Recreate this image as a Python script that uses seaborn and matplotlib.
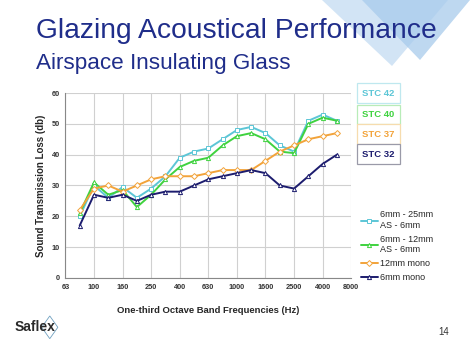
import matplotlib
matplotlib.use("Agg")
import matplotlib.pyplot as plt
import seaborn as sns
import numpy as np
import pandas as pd
from matplotlib.patches import Polygon

### one-third octave bands that carry data (80 Hz .. 5000 Hz)
BANDS = [80, 100, 125, 160, 200, 250, 315, 400, 500, 630, 800,
         1000, 1250, 1600, 2000, 2500, 3150, 4000, 5000]
TICK_LABELS = ["63", "100", "160", "250", "400", "630", "1000",
               "1600", "2500", "4000", "8000"]

STL_25AS = [20, 30, 26, 29.5, 26, 29, 33, 39, 41, 42, 45, 48, 49, 47, 43, 41, 51, 53, 51]
STL_12AS = [21, 31, 27, 28.5, 23, 27, 32, 36, 38, 39, 43, 46, 47, 45, 41, 40.5, 50, 52, 51]
STL_12MONO = [22, 29, 30, 28, 30, 32, 33, 33, 33, 34, 35, 35, 35, 38, 41, 43, 45, 46, 47]
STL_6MONO = [17, 27, 26, 27, 25, 27, 28, 28, 30, 32, 33, 34, 35, 34, 30, 29, 33, 37, 40]

SERIES = ["6mm - 25mm\nAS - 6mm", "6mm - 12mm\nAS - 6mm", "12mm mono", "6mm mono"]
STC = ["STC 42", "STC 40", "STC 37", "STC 32"]
COLORS = ["#5cc6d6", "#3fd23f", "#f2a33a", "#1c1c6e"]
MARKERS = ["s", "^", "D", "^"]

### long-form frame, x is the band position on the axis (63 Hz = 0)
rows = []
for name, vals in zip(SERIES, [STL_25AS, STL_12AS, STL_12MONO, STL_6MONO]):
	for i, (b, v) in enumerate(zip(BANDS, vals)):
		rows.append({"series": name, "pos": i + 1, "band": b, "stl": v})
df = pd.DataFrame(rows)

sns.set_style("white")
plt.rcParams["font.family"] = ["Liberation Sans", "DejaVu Sans"]

fig = plt.figure(figsize=(4.74, 3.55), dpi=100)
fig.patch.set_facecolor("white")

### decorative blue triangles top right (pixel coords -> figure fraction)
def px(pts):
	return [[x / 474.0, 1 - y / 355.0] for x, y in pts]

fig.patches.append(Polygon(px([(322, 0), (448, 0), (392, 66)]), closed=True,
                           transform=fig.transFigure, facecolor="#c4dcf2", edgecolor="none",
                           alpha=0.75, zorder=0))
fig.patches.append(Polygon(px([(362, 0), (470, 0), (420, 60)]), closed=True,
                           transform=fig.transFigure, facecolor="#a8cbec", edgecolor="none",
                           alpha=0.75, zorder=0))

fig.text(0.076, 0.893, "Glazing Acoustical Performance", fontsize=20.3, color="#1f2d8a", va="baseline")
fig.text(0.076, 0.806, "Airspace Insulating Glass", fontsize=16.2, color="#1f2d8a", va="baseline")

ax = fig.add_axes([0.138, 0.217, 0.603, 0.521])
for name, col, mk in zip(SERIES, COLORS, MARKERS):
	sub = df[df["series"] == name]
	sns.lineplot(data=sub, x="pos", y="stl", ax=ax, color=col, lw=1.4,
	             marker=mk, markersize=3, markerfacecolor="white",
	             markeredgecolor=col, markeredgewidth=0.7, label=name)

ax.set_xlim(0, 20)
ax.set_ylim(0, 60)
ax.set_xticks(np.arange(0, 21, 2))
ax.set_xticklabels(TICK_LABELS)
ax.set_yticks(np.arange(0, 61, 10))
ax.tick_params(labelsize=5.3, length=2, width=0.6, pad=2, direction="out", colors="#333333")
for lab in ax.get_xticklabels() + ax.get_yticklabels():
	lab.set_fontweight("bold")
ax.grid(True, color="#d0d0d0", lw=0.8)
for s in ["top", "right"]:
	ax.spines[s].set_visible(False)
for s in ["left", "bottom"]:
	ax.spines[s].set_color("#888888")
	ax.spines[s].set_linewidth(0.8)
ax.set_xlabel("One-third Octave Band Frequencies (Hz)", fontsize=6.8, fontweight="bold", labelpad=11)
ax.set_ylabel("Sound Transmission Loss (db)", fontsize=7, fontweight="bold", labelpad=4)

h, l = ax.get_legend_handles_labels()
ax.get_legend().remove()
fig.legend(h, l, loc="upper left", bbox_to_anchor=(0.745, 0.43), frameon=False,
           fontsize=6.5, handlelength=1.8, handletextpad=0.3, labelspacing=0.55)

### STC boxes
stc_y = [0.738, 0.677, 0.622, 0.566]
edges = ["#bfe8ef", "#b8ecb8", "#f6dcae", "#9a9aa8"]
for txt, col, y, ec in zip(STC, COLORS, stc_y, edges):
	fig.text(0.764, y, txt, fontsize=6.8, fontweight="bold", color=col, va="center",
	         bbox=dict(boxstyle="square,pad=0.55", facecolor="white", edgecolor=ec, lw=0.9))

### footer
fig.text(0.03, 0.078, "Saflex", fontsize=10, fontweight="bold", color="#2a2a2a", va="center")
fig.patches.append(Polygon([[0.105, 0.11], [0.122, 0.078], [0.105, 0.046], [0.088, 0.078]], closed=True,
                           transform=fig.transFigure, facecolor="none", edgecolor="#6fa0c0", lw=0.6))
fig.text(0.925, 0.065, "14", fontsize=7, color="#333333", va="center")

fig.savefig("out.png", dpi=100)
